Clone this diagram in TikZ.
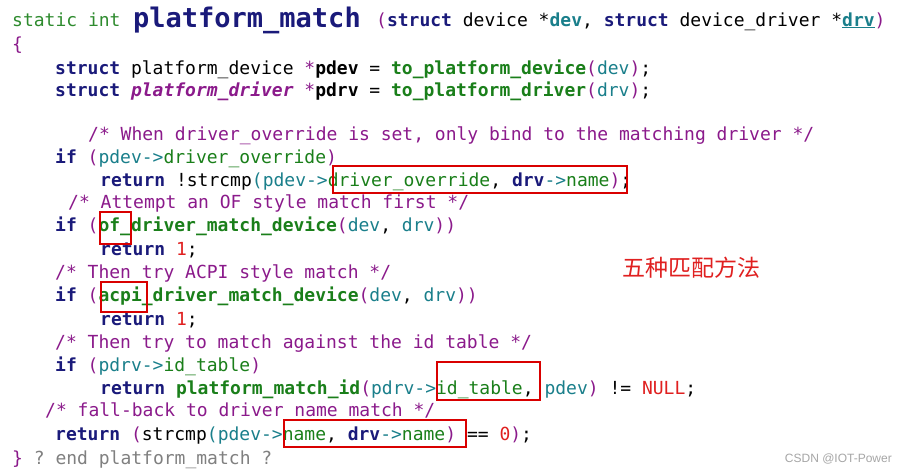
\documentclass[tikz,border=0pt]{standalone}
\usepackage{fontspec}
\setmonofont{DejaVu Sans Mono}
\newfontfamily\cjk{Noto Sans CJK SC}
\newfontfamily\wm{Liberation Sans}
\definecolor{kwc}{HTML}{1A1A7A}
\definecolor{typc}{HTML}{2E8B2E}
\definecolor{purc}{HTML}{8B1A8B}
\definecolor{tealc}{HTML}{1A7F8B}
\definecolor{fldc}{HTML}{1A7F1A}
\definecolor{fnc}{HTML}{1A7F1A}
\definecolor{numc}{HTML}{E02020}
\newcommand{\kw}[1]{\textcolor{kwc}{\bfseries #1}}
\newcommand{\ty}[1]{\textcolor{typc}{#1}}
\newcommand{\pu}[1]{\textcolor{purc}{#1}}
\newcommand{\vr}[1]{\textcolor{tealc}{#1}}
\newcommand{\fd}[1]{\textcolor{fldc}{#1}}
\newcommand{\fn}[1]{\textcolor{fnc}{\bfseries #1}}
\newcommand{\nm}[1]{\textcolor{numc}{#1}}
\newcommand{\cmt}[1]{\textcolor{purc}{#1}}
\tikzset{code/.style={anchor=base west,inner sep=0pt,font=\ttfamily\fontsize{18}{18}\selectfont,text=black},
  hl/.style={draw=red!85!black,line width=1.6pt}}
\begin{document}
\begin{tikzpicture}[x=1pt,y=-1pt]
\useasboundingbox[fill=white] (0,0) rectangle (906,472);
\node[code] (l1a) at (12,26) {\ty{static int }};
\node[code,font=\ttfamily\bfseries\fontsize{27}{27}\selectfont,text=kwc] (l1b) at (133,27) {platform\_match};
\node[code] (l1c) at (376,26) {\pu{(}\kw{struct} device *\vr{\bfseries dev}, \kw{struct} device\_driver *\vr{\bfseries\underline{drv}}\pu{)}};
\node[code] (l2) at (12,50) {\pu{\{}};
\node[code] (l3) at (55,74) {\kw{struct} platform\_device \pu{*}\textbf{pdev} = \fn{to\_platform\_device}\pu{(}\vr{dev}\pu{)};};
\node[code] (l4) at (55,96) {\kw{struct} \pu{\bfseries\itshape platform\_driver} \pu{*}\textbf{pdrv} = \fn{to\_platform\_driver}\pu{(}\vr{drv}\pu{)};};
\node[code] (l6) at (88,140) {\cmt{/* When driver\_override is set, only bind to the matching driver */}};
\node[code] (l7) at (55,163) {\kw{if} \pu{(}\vr{pdev}\vr{->}\fd{driver\_override}\pu{)}};
\node[code] (l8) at (100,186) {\kw{return} !strcmp\vr{(pdev->}\fd{driver\_override}, \kw{drv}\vr{->}\fd{name}\pu{)};};
\node[code] (l9) at (68,208) {\cmt{/* Attempt an OF style match first */}};
\node[code] (l10) at (55,231) {\kw{if} \pu{(}\fn{of\_driver\_match\_device}\pu{(}\vr{dev}, \vr{drv}\pu{))}};
\node[code] (l11) at (100,255) {\kw{return} \nm{1};};
\node[code] (l12) at (55,278) {\cmt{/* Then try ACPI style match */}};
\node[code] (l13) at (55,301) {\kw{if} \pu{(}\fn{acpi\_driver\_match\_device}\pu{(}\vr{dev}, \vr{drv}\pu{))}};
\node[code] (l14) at (100,325) {\kw{return} \nm{1};};
\node[code] (l15) at (55,348) {\cmt{/* Then try to match against the id table */}};
\node[code] (l16) at (55,371) {\kw{if} \pu{(}\vr{pdrv->}\fd{id\_table}\pu{)}};
\node[code] (l17) at (100,394) {\kw{return} \fn{platform\_match\_id}\pu{(}\vr{pdrv->}\fd{id\_table}, \vr{pdev}\pu{)} != \nm{NULL};};
\node[code] (l18) at (45,416) {\cmt{/* fall-back to driver name match */}};
\node[code] (l19) at (55,440) {\kw{return} \pu{(}strcmp\vr{(pdev->}\fd{name}, \kw{drv}\vr{->}\fd{name}\pu{)} == \nm{0}\pu{)};};
\node[code,text=gray] (l20) at (12,464) {\pu{\}} ? end platform\_match ?};
\node[anchor=base west,inner sep=0pt,font=\cjk\fontsize{23}{23}\selectfont,text=numc] (cn) at (622,276) {五种匹配方法};
\node[anchor=base east,inner sep=0pt,font=\wm\fontsize{12}{12}\selectfont,text=gray!70] (wmk) at (892,462) {CSDN @IOT-Power};
\draw[hl] (333,166) rectangle (627,193);
\draw[hl] (100,212) rectangle (131,244);
\draw[hl] (101,282) rectangle (147,312);
\draw[hl] (437,362) rectangle (540,400);
\draw[hl] (284,420) rectangle (466,447);
\end{tikzpicture}
\end{document}
